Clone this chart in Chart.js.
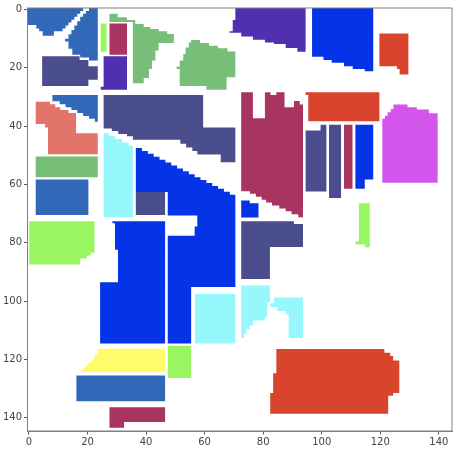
<!DOCTYPE html>
<html>
<head>
<meta charset="utf-8">
<title>Ground truth map</title>
<script src="https://cdn.jsdelivr.net/npm/chart.js@4"></script>
<style>
body { margin: 0; background: #fff; }
canvas { display: block; }
</style>
</head>
<body>
<canvas id="mapChart" width="474" height="450"></canvas>
<script>
// Tick labels
const xTicks = [0, 20, 40, 60, 80, 100, 120, 140];
const yTicks = [0, 20, 40, 60, 80, 100, 120, 140];

// Class colours
const steel = '#3168b8';
const slate = '#4a4e8c';
const blue = '#0433e8';
const green = '#77be78';
const lime = '#99f560';
const crimson = '#a8355f';
const purple = '#5030b0';
const red = '#d8442e';
const salmon = '#e2746a';
const cyan = '#96f8fc';
const yellow = '#fffb6b';
const magenta = '#d455ec';

// Field outlines, as [column, row] on the image grid
const steelTopLeft = [[-0.5,-0.5],[18.5,-0.5],[18.5,0.5],[17.5,0.5],[17.5,1.5],[16.5,1.5],[16.5,2.5],[15.5,2.5],[15.5,3.5],[14.5,3.5],[14.5,4.5],[13.5,4.5],[13.5,5.5],[12.5,5.5],[12.5,6.5],[11.5,6.5],[11.5,7.5],[8.5,7.5],[8.5,9],[4.7,9],[4.7,7.5],[3.5,7.5],[3.5,6.5],[2.5,6.5],[2.5,5.3],[-0.5,5.3]];
const steelTop = [[20.5,-0.5],[23.5,-0.5],[23.5,17.5],[20.5,17.5],[20.5,16.5],[17.5,16.5],[17.5,15.5],[14.8,15.5],[14.8,13.5],[13.5,13.5],[13.5,11],[12.3,11],[12.3,10],[13.5,10],[13.5,8.5],[14.5,8.5],[14.5,7],[15.5,7],[15.5,5.5],[16.5,5.5],[16.5,4],[17.5,4],[17.5,2.5],[18.5,2.5],[18.5,1.5],[19.5,1.5],[19.5,0.5],[20.5,0.5]];
const limeThin = [[24.5,4.8],[26.5,4.8],[26.5,14.5],[24.5,14.5]];
const crimsonSmall = [[27.5,4.8],[33.5,4.8],[33.5,15.5],[27.5,15.5]];
const greenTop = [[27.5,1.5],[30.3,1.5],[30.3,2.7],[33.5,2.7],[33.5,3.6],[36.3,3.6],[36.3,5],[39.2,5],[39.2,6],[41.5,6],[41.5,6.7],[44.3,6.7],[44.3,7.5],[47.2,7.5],[47.2,8.4],[49.5,8.4],[49.5,11.5],[44.3,11.5],[44.3,14.1],[43.2,14.1],[43.2,17.5],[42,17.5],[42,20.4],[41,20.4],[41,23.5],[39.2,23.5],[39.2,25.3],[35.5,25.3],[35.5,4.3],[27.5,4.3]];
const purpleLeft = [[25.5,16],[33.5,16],[33.5,27.5],[24.5,27.5],[24.5,26.5],[25.5,26.5]];
const slateLeft = [[4.5,16],[17.3,16],[17.3,17.3],[20.3,17.3],[20.3,19.5],[23.5,19.5],[23.5,24.1],[20.3,24.1],[20.3,26.2],[4.5,26.2]];
const greenRight = [[55.4,10.5],[58.4,10.5],[58.4,11.5],[61.5,11.5],[61.5,12.4],[64.6,12.4],[64.6,13.3],[67.8,13.3],[67.8,14.4],[70.5,14.4],[70.5,23.2],[67.5,23.2],[67.5,27.5],[60.6,27.5],[60.6,26.2],[51.5,26.2],[51.5,20.4],[50.4,20.4],[50.4,19.6],[51.5,19.6],[51.5,17.5],[52.7,17.5],[52.7,15.3],[53.5,15.3],[53.5,13],[54.6,13],[54.6,11.3],[55.4,11.3]];
const steelMid = [[8,29.3],[23.5,29.3],[23.5,38.5],[22.5,38.5],[22.5,37.5],[20.5,37.5],[20.5,36.5],[18.5,36.5],[18.5,35.5],[16.5,35.5],[16.5,34.5],[14.5,34.5],[14.5,33.5],[12.5,33.5],[12.5,32.5],[10.5,32.5],[10.5,31.5],[8,31.5]];
const slateBig = [[25.5,29.3],[59.5,29.3],[59.5,40.5],[70.5,40.5],[70.5,52.4],[65.5,52.4],[65.5,49.7],[57.5,49.7],[57.5,48.5],[55.8,48.5],[55.8,47.3],[53.7,47.3],[53.7,46],[51.7,46],[51.7,44.7],[35.5,44.7],[35.5,43.5],[33.5,43.5],[33.5,42.7],[30.5,42.7],[30.5,41.7],[28.3,41.7],[28.3,40.8],[25.5,40.8]];
const crimsonBig = [[72.5,28.4],[76.5,28.4],[76.5,37.3],[80.6,37.3],[80.6,28.4],[82.5,28.4],[82.5,29.3],[84.5,29.3],[84.5,28.4],[87.3,28.4],[87.3,33.5],[90.5,33.5],[90.5,31.4],[92.5,31.4],[92.5,32.6],[93.6,32.6],[93.6,71.2],[92,71.2],[92,70.2],[89.7,70.2],[89.7,69.2],[87.7,69.2],[87.7,68.2],[85.5,68.2],[85.5,67.2],[83,67.2],[83,66.2],[81,66.2],[81,65.2],[79.5,65.2],[79.5,64.2],[77.5,64.2],[77.5,63.2],[75.5,63.2],[75.5,62.3],[72.5,62.3]];
const purpleTop = [[70.5,-0.5],[94.5,-0.5],[94.5,14.5],[91.7,14.5],[91.7,13.2],[87.7,13.2],[87.7,11.8],[83.7,11.8],[83.7,11.3],[80.6,11.3],[80.6,10.4],[76.5,10.4],[76.5,9.3],[72.5,9.3],[72.5,8],[68.5,8],[68.5,7.5],[69.6,7.5],[69.6,3.6],[70.5,3.6]];
const blueTop = [[96.7,-0.5],[117.6,-0.5],[117.6,21.2],[114.7,21.2],[114.7,20.4],[110.6,20.4],[110.6,19.5],[107.6,19.5],[107.6,18.3],[103.4,18.3],[103.4,17.3],[100.6,17.3],[100.6,16.2],[96.7,16.2]];
const redSmall = [[119.7,8.2],[129.6,8.2],[129.6,22.3],[126.6,22.3],[126.6,20.4],[125.7,20.4],[125.7,19.5],[119.7,19.5]];
const redMid = [[94.5,28.4],[119.7,28.4],[119.7,38.3],[95.4,38.3],[95.4,29.3],[94.5,29.3]];
const magentaField = [[120.7,37.5],[121.6,37.5],[121.6,36.4],[122.5,36.4],[122.5,35.2],[123.6,35.2],[123.6,34.1],[124.5,34.1],[124.5,32.6],[129.3,32.6],[129.3,33.5],[132.5,33.5],[132.5,34.3],[136.6,34.3],[136.6,35.6],[139.6,35.6],[139.6,59.4],[120.7,59.4]];
const slateBarA = [[94.5,41.5],[99.6,41.5],[99.6,39.5],[101.6,39.5],[101.6,62.4],[94.5,62.4]];
const slateBarB = [[102.5,39.5],[106.6,39.5],[106.6,64.6],[102.5,64.6]];
const crimsonBar = [[107.6,39.5],[110.5,39.5],[110.5,61.5],[107.6,61.5]];
const blueBar = [[111.5,39.5],[117.6,39.5],[117.6,58.3],[114.7,58.3],[114.7,61.5],[111.5,61.5]];
const salmonField = [[2.3,31.6],[7.2,31.6],[7.2,32.5],[9,32.5],[9,33.5],[10.7,33.5],[10.7,34.5],[13.5,34.5],[13.5,35.5],[16.1,35.5],[16.1,42.4],[23.5,42.4],[23.5,49.6],[6.5,49.6],[6.5,40.5],[5.5,40.5],[5.5,39.3],[2.3,39.3]];
const greenBar = [[2.3,50.4],[23.5,50.4],[23.5,57.5],[2.3,57.5]];
const steelBox = [[2.3,58.3],[20.3,58.3],[20.3,70.5],[2.3,70.5]];
const limeLeft = [[0.1,72.6],[22.4,72.6],[22.4,83.4],[21.1,83.4],[21.1,84.3],[19.8,84.3],[19.8,85.4],[17.5,85.4],[17.5,87.4],[0.1,87.4]];
const cyanBar = [[25.5,42.4],[27.2,42.4],[27.2,43.3],[29.5,43.3],[29.5,44.4],[31.8,44.4],[31.8,45.6],[34,45.6],[34,46.7],[35.5,46.7],[35.5,71.2],[25.5,71.2]];
const blueMain = [[36.5,47.5],[38.6,47.5],[38.6,48.5],[40.6,48.5],[40.6,49.5],[42.6,49.5],[42.6,50.5],[44.6,50.5],[44.6,51.5],[46.6,51.5],[46.6,52.5],[48.6,52.5],[48.6,53.5],[50.6,53.5],[50.6,54.5],[52.6,54.5],[52.6,55.5],[54.6,55.5],[54.6,56.5],[56.6,56.5],[56.6,57.5],[58.6,57.5],[58.6,58.5],[60.6,58.5],[60.6,59.5],[62.6,59.5],[62.6,60.5],[64.6,60.5],[64.6,61.5],[66.6,61.5],[66.6,62.5],[68.6,62.5],[68.6,63.5],[70.5,63.5],[70.5,95.1],[55.4,95.1],[55.4,114.5],[47.4,114.5],[47.4,77.6],[56.6,77.6],[56.6,74.4],[57.5,74.4],[57.5,70.6],[47.4,70.6],[47.4,62.6],[36.5,62.6]];
const slateInner = [[36.5,62.6],[46.5,62.6],[46.5,70.5],[36.5,70.5]];
const blueLower = [[28.5,72.6],[46.5,72.6],[46.5,114.5],[24.3,114.5],[24.3,93.5],[30.4,93.5],[30.4,82.4],[29.4,82.4],[29.4,73.3],[28.5,73.3]];
const yellowField = [[23.5,116.3],[46.5,116.3],[46.5,124.3],[17.3,124.3],[18.5,123.3],[19.5,122.3],[20.5,121.3],[21.5,120.3],[22.5,119.3],[22.5,118.3],[23.5,118.3]];
const limeBox = [[47.4,115.4],[55.4,115.4],[55.4,126.3],[47.4,126.3]];
const steelBottom = [[16.2,125.5],[46.5,125.5],[46.5,134.3],[16.2,134.3]];
const crimsonBottom = [[27.5,136.4],[46.5,136.4],[46.5,141.4],[32.5,141.4],[32.5,143.4],[27.5,143.4]];
const cyanBox = [[56.7,97.5],[70.5,97.5],[70.5,114.5],[56.7,114.5]];
const blueSmall = [[72.5,65.5],[75.4,65.5],[75.4,66.4],[78.4,66.4],[78.4,71.3],[72.5,71.3]];
const slateCorner = [[72.5,72.6],[90.5,72.6],[90.5,73.5],[93.6,73.5],[93.6,81.4],[82.3,81.4],[82.3,92.4],[72.5,92.4]];
const limeRight = [[112.7,66.4],[116.4,66.4],[116.4,81.5],[114.7,81.5],[114.7,80.6],[111.5,80.6],[111.5,79.5],[112.7,79.5]];
const cyanLeft = [[72.5,94.6],[82.3,94.6],[82.3,100.3],[81.4,100.3],[81.4,105.5],[80.5,105.5],[80.5,106.6],[76.5,106.6],[76.5,108.3],[75.4,108.3],[75.4,109.5],[74.3,109.5],[74.3,111.2],[73.4,111.2],[73.4,112.6],[72.5,112.6]];
const cyanRight = [[83.7,98.7],[93.6,98.7],[93.6,112.6],[88.7,112.6],[88.7,104.6],[87.7,104.6],[87.7,103.4],[84.8,103.4],[84.8,102],[82.5,102],[82.5,100.7],[83.7,100.7]];
const redBig = [[84.5,116.4],[121.4,116.4],[121.4,117.7],[123.4,117.7],[123.4,118.8],[124.4,118.8],[124.4,120.3],[126.5,120.3],[126.5,131.5],[124.4,131.5],[124.4,132.4],[122.7,132.4],[122.7,138.6],[82.4,138.6],[82.4,131.5],[83.4,131.5],[83.4,124.7],[84.5,124.7]];

const fields = [
    [steelTopLeft, steel], [steelTop, steel], [limeThin, lime], [crimsonSmall, crimson],
    [greenTop, green], [purpleLeft, purple], [slateLeft, slate], [greenRight, green],
    [steelMid, steel], [slateBig, slate], [crimsonBig, crimson], [purpleTop, purple],
    [blueTop, blue], [redSmall, red], [redMid, red], [magentaField, magenta],
    [slateBarA, slate], [slateBarB, slate], [crimsonBar, crimson], [blueBar, blue],
    [salmonField, salmon], [greenBar, green], [steelBox, steel], [limeLeft, lime],
    [cyanBar, cyan], [blueMain, blue], [slateInner, slate], [blueLower, blue],
    [yellowField, yellow], [limeBox, lime], [steelBottom, steel], [crimsonBottom, crimson],
    [cyanBox, cyan], [blueSmall, blue], [slateCorner, slate], [limeRight, lime],
    [cyanLeft, cyan], [cyanRight, cyan], [redBig, red]
];

// Draws the top and right spines too
const frame = {
    id: 'frame',
    afterDatasetsDraw(chart) {
        const { ctx, chartArea: a } = chart;
        ctx.save();
        ctx.strokeStyle = '#808080';
        ctx.lineWidth = 1;
        ctx.strokeRect(a.left, a.top, a.right - a.left, a.bottom - a.top);
        ctx.restore();
    }
};

function axis(ticks, size) {
    return {
        type: 'linear',
        min: -0.5,
        max: 144.5,
        afterBuildTicks: scale => { scale.ticks = ticks.map(v => ({ value: v })); },
        afterFit: scale => {
            if (scale.axis === 'x') scale.height = size;
            else scale.width = size;
        },
        grid: { drawOnChartArea: false, tickLength: 3.5, tickColor: '#555', color: '#555' },
        border: { color: '#808080' },
        ticks: {
            autoSkip: false,
            maxRotation: 0,
            padding: 2,
            color: '#444',
            font: { family: 'DejaVu Sans', size: 10 }
        }
    };
}

new Chart(document.getElementById('mapChart'), {
    type: 'scatter',
    data: {
        datasets: fields.map(([outline, colour]) => ({
            data: outline.map(([x, y]) => ({ x, y })),
            showLine: true,
            fill: 'shape',
            tension: 0,
            backgroundColor: colour,
            borderColor: 'transparent', // a zero lineWidth is ignored by canvas
            borderWidth: 0,
            pointRadius: 0
        }))
    },
    options: {
        responsive: false,
        animation: false,
        layout: { padding: { top: 8, right: 22 } },
        plugins: { legend: { display: false }, tooltip: { enabled: false } },
        scales: {
            x: axis(xTicks, 19),
            y: { ...axis(yTicks, 27.5), reverse: true }
        }
    },
    plugins: [frame]
});
</script>
</body>
</html>
